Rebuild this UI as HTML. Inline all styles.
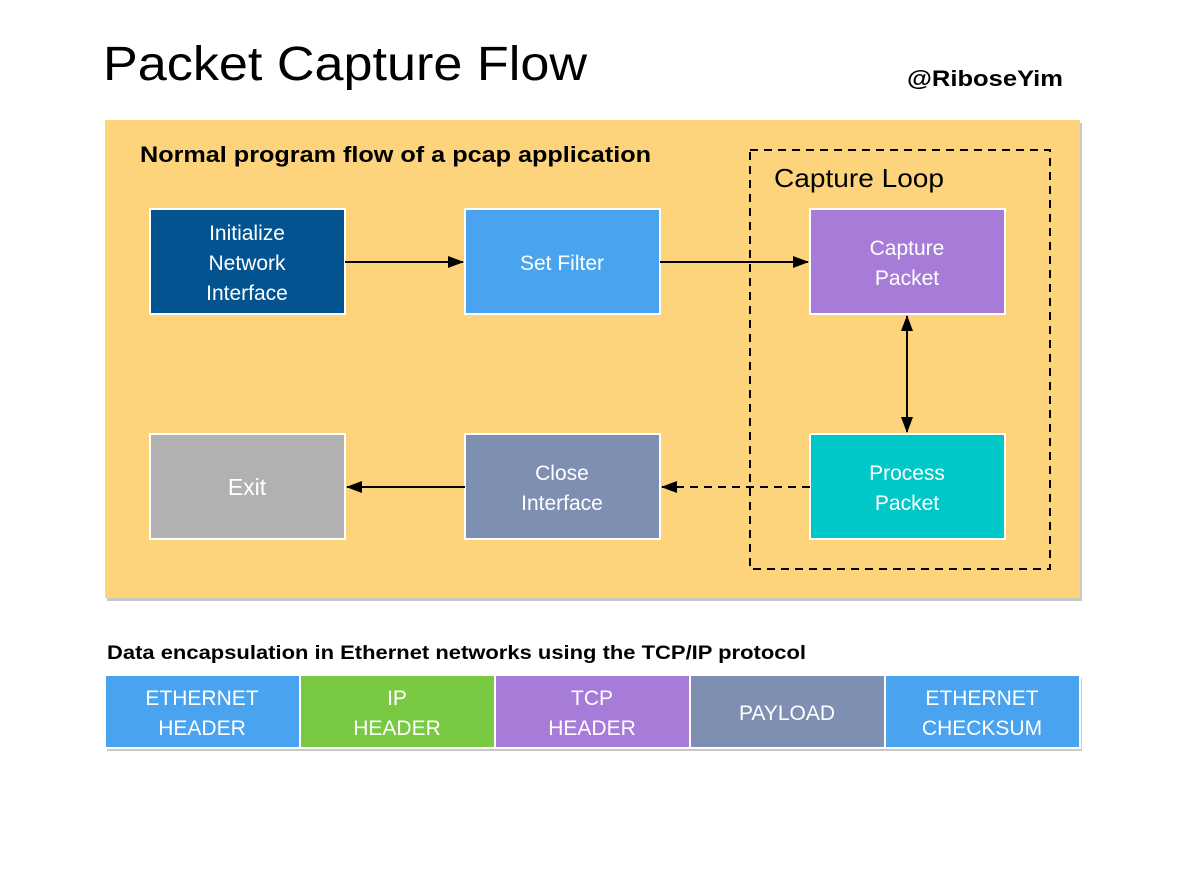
<!DOCTYPE html>
<html><head><meta charset="utf-8"><style>
html,body{margin:0;padding:0;background:#fff;}
svg{display:block;font-family:"Liberation Sans",sans-serif;}
</style></head><body>
<svg width="1199" height="869" viewBox="0 0 1199 869" xmlns="http://www.w3.org/2000/svg">
<defs>
<marker id="as" markerWidth="16" markerHeight="12" refX="15" refY="6" orient="auto-start-reverse" markerUnits="userSpaceOnUse"><path d="M0,0 L16,6 L0,12 z" fill="#000"/></marker>
</defs>
<rect width="1199" height="869" fill="#fff"/>
<text x="103" y="80" font-size="48" fill="#000" textLength="484" lengthAdjust="spacingAndGlyphs">Packet Capture Flow</text>
<text x="907" y="86" font-size="22" font-weight="bold" fill="#000" textLength="156" lengthAdjust="spacingAndGlyphs">@RiboseYim</text>
<rect x="107" y="123" width="975" height="478" fill="#c8c8c8"/>
<rect x="105" y="120" width="975" height="478" fill="#FDD47C"/>
<text x="140" y="162" font-size="22" font-weight="bold" fill="#000" textLength="511" lengthAdjust="spacingAndGlyphs">Normal program flow of a pcap application</text>
<rect x="750" y="150" width="300" height="419" fill="none" stroke="#000" stroke-width="2" stroke-dasharray="8,6"/>
<text x="774" y="187" font-size="26" fill="#000" textLength="170" lengthAdjust="spacingAndGlyphs">Capture Loop</text>
<g stroke="#fff" stroke-width="2">
<rect x="150" y="209" width="195" height="105" fill="#02538F"/>
<rect x="465" y="209" width="195" height="105" fill="#4AA3EE"/>
<rect x="810" y="209" width="195" height="105" fill="#A77BD8"/>
<rect x="810" y="434" width="195" height="105" fill="#00C8C8"/>
<rect x="465" y="434" width="195" height="105" fill="#7E8FB2"/>
<rect x="150" y="434" width="195" height="105" fill="#B1B1B1"/>
</g>
<g fill="#fff" font-size="21" text-anchor="middle">
<text x="247" y="240">Initialize</text><text x="247" y="270">Network</text><text x="247" y="300">Interface</text>
<text x="562" y="270">Set Filter</text>
<text x="907" y="255">Capture</text><text x="907" y="285">Packet</text>
<text x="907" y="480">Process</text><text x="907" y="510">Packet</text>
<text x="562" y="480">Close</text><text x="562" y="510">Interface</text>
<text x="247" y="495" font-size="23">Exit</text>
</g>
<g stroke="#000" stroke-width="2" fill="none">
<line x1="345" y1="262" x2="463" y2="262" marker-end="url(#as)"/>
<line x1="660" y1="262" x2="808" y2="262" marker-end="url(#as)"/>
<line x1="907" y1="316" x2="907" y2="432" marker-end="url(#as)" marker-start="url(#as)"/>
<line x1="810" y1="487" x2="662" y2="487" stroke-dasharray="8,6" marker-end="url(#as)"/>
<line x1="465" y1="487" x2="347" y2="487" marker-end="url(#as)"/>
</g>
<text x="107" y="659" font-size="19" font-weight="bold" fill="#000" textLength="699" lengthAdjust="spacingAndGlyphs">Data encapsulation in Ethernet networks using the  TCP/IP protocol</text>
<rect x="107" y="678" width="975" height="73" fill="#c8c8c8"/>
<g stroke="#fff" stroke-width="2">
<rect x="105" y="675" width="195" height="73" fill="#4AA3EE"/>
<rect x="300" y="675" width="195" height="73" fill="#7AC943"/>
<rect x="495" y="675" width="195" height="73" fill="#A77BD8"/>
<rect x="690" y="675" width="195" height="73" fill="#7E8FB2"/>
<rect x="885" y="675" width="195" height="73" fill="#4AA3EE"/>
</g>
<g fill="#fff" font-size="21" text-anchor="middle">
<text x="202" y="705">ETHERNET</text><text x="202" y="735">HEADER</text>
<text x="397" y="705">IP</text><text x="397" y="735">HEADER</text>
<text x="592" y="705">TCP</text><text x="592" y="735">HEADER</text>
<text x="787" y="720">PAYLOAD</text>
<text x="982" y="705">ETHERNET</text><text x="982" y="735">CHECKSUM</text>
</g>
</svg>
</body></html>
